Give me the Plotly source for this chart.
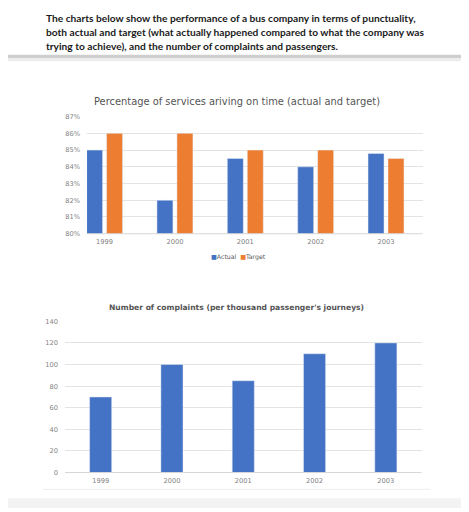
import plotly.graph_objects as go

years = ["1999", "2000", "2001", "2002", "2003"]
actual = [85.0, 82.0, 84.5, 84.0, 84.8]
target = [86.0, 86.0, 85.0, 85.0, 84.5]
complaints = [70, 100, 85, 110, 120]

pct_ticks = [80, 81, 82, 83, 84, 85, 86, 87]
pct_labels = [str(v) + "%" for v in pct_ticks]
count_ticks = [0, 20, 40, 60, 80, 100, 120, 140]

header = [
    "The charts below show the performance of a bus company in terms of punctuality,",
    "both actual and target (what actually happened compared to what the company was",
    "trying to achieve), and the number of complaints and passengers.",
]

# the page body keeps its 8px margin, so the figure is 8px smaller than the window
PAD = 8
W, H = 469 - PAD, 512 - PAD
BLUE = "#4472C4"
ORANGE = "#ED7D31"
GRID = "#e3e3e3"
TICK = "#7f7f7f"
CHART_FONT = "DejaVu Sans"


def px(x):
    return (x - PAD) / W


def py(y):
    return 1 - (y - PAD) / H


fig = go.Figure()

# top chart: actual vs target
fig.add_trace(go.Bar(x=years, y=actual, name="Actual", marker_color=BLUE,
                     xaxis="x", yaxis="y"))
fig.add_trace(go.Bar(x=years, y=target, name="Target", marker_color=ORANGE,
                     xaxis="x", yaxis="y"))

# bottom chart: complaints
fig.add_trace(go.Bar(x=years, y=complaints, name="Complaints", marker_color=BLUE,
                     width=0.31, xaxis="x2", yaxis="y2"))

axis_common = dict(showline=False, ticks="", tickfont=dict(family=CHART_FONT, size=6.7, color=TICK))

fig.update_layout(
    width=W, height=H,
    margin=dict(l=0, r=0, t=0, b=0),
    paper_bgcolor="white", plot_bgcolor="white",
    barmode="group", bargap=0.432, bargroupgap=0.2,
    showlegend=False,
    xaxis=dict(domain=[px(87), px(422.6)], range=[-0.25, 4.52], type="category",
               showgrid=False, anchor="y", ticklabelstandoff=3, **axis_common),
    yaxis=dict(domain=[py(233.3), py(114.3)], range=[80, 87], tickvals=pct_ticks,
               ticktext=pct_labels, showgrid=True, gridcolor=GRID, gridwidth=1,
               zeroline=False, anchor="x", ticklabelstandoff=6, **axis_common),
    xaxis2=dict(domain=[px(65), px(421.5)], range=[-0.5, 4.5], type="category",
                showgrid=False, anchor="y2", ticklabelstandoff=3, **axis_common),
    yaxis2=dict(domain=[py(476), py(322.3)], range=[0, 140], tickvals=count_ticks,
                showgrid=True, gridcolor=GRID, gridwidth=1, zeroline=False,
                anchor="x2", ticklabelstandoff=6, **axis_common),
)

annotations = []
for i, line in enumerate(header):
    annotations.append(dict(
        text="<b>" + line + "</b>", x=px(44), y=py(14 + i * 14.35),
        xref="paper", yref="paper", xanchor="left", yanchor="middle",
        showarrow=False, font=dict(family="Lato", size=10.2, color="#1a1a1a")))

annotations.append(dict(
    text="Percentage of services ariving on time (actual and target)",
    x=px(237), y=py(99), xref="paper", yref="paper", xanchor="center", yanchor="middle",
    showarrow=False, font=dict(family=CHART_FONT, size=9.9, color="#555555")))

annotations.append(dict(
    text="<b>Number of complaints (per thousand passenger's journeys)</b>",
    x=px(236), y=py(308.3), xref="paper", yref="paper", xanchor="center", yanchor="middle",
    showarrow=False, font=dict(family=CHART_FONT, size=7.6, color="#555555")))

annotations.append(dict(
    text="<span style='color:" + BLUE + "'>■</span>Actual  <span style='color:"
         + ORANGE + "'>■</span>Target",
    x=px(238), y=py(256.7), xref="paper", yref="paper", xanchor="center", yanchor="middle",
    showarrow=False, font=dict(family=CHART_FONT, size=6.2, color="#555555")))

fig.update_layout(annotations=annotations)

shapes = [
    dict(type="rect", xref="paper", yref="paper", x0=0, x1=1, y0=py(55), y1=py(51.5),
         fillcolor="#cfcfcf", line_width=0, layer="above"),
    dict(type="rect", xref="paper", yref="paper", x0=0, x1=1, y0=py(58), y1=py(55),
         fillcolor="#ececec", line_width=0, layer="above"),
    dict(type="line", xref="paper", yref="paper", x0=px(43), x1=px(430), y0=py(493), y1=py(493),
         line=dict(color="#ededed", width=1)),
    dict(type="rect", xref="paper", yref="paper", x0=0, x1=1, y0=0, y1=py(502),
         fillcolor="#f3f3f3", line_width=0, layer="below"),
    # baselines
    dict(type="line", xref="paper", yref="paper", x0=px(87), x1=px(422.6), y0=py(233.3), y1=py(233.3),
         line=dict(color="#d6d6d6", width=1)),
    dict(type="line", xref="paper", yref="paper", x0=px(65), x1=px(421.5), y0=py(476), y1=py(476),
         line=dict(color="#d6d6d6", width=1)),
]
fig.update_layout(shapes=shapes)

fig.write_html("out.html")
